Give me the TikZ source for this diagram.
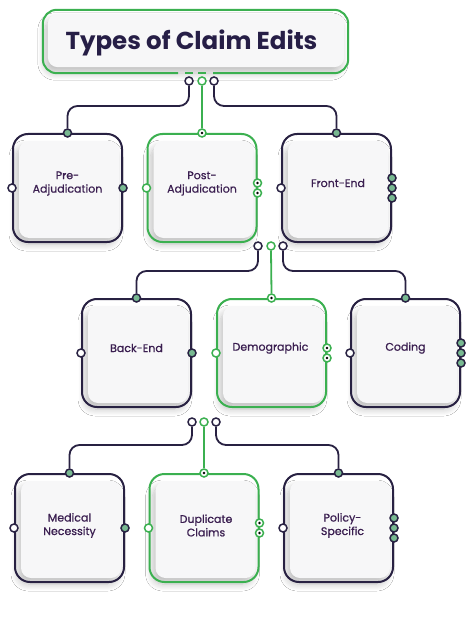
\documentclass[tikz,border=0pt]{standalone}
\usepackage{fontspec}
\setmainfont{Poppins}
\newfontfamily\pmed{Poppins}[FakeBold=0.8]
\usetikzlibrary{calc,shadows.blur}
\definecolor{navy}{RGB}{40,33,66}
\definecolor{cgreen}{RGB}{59,176,80}
\definecolor{txt}{RGB}{58,30,80}
\definecolor{ttl}{RGB}{38,30,70}
\definecolor{innerfill}{RGB}{247,247,248}
\definecolor{dotg}{RGB}{120,185,145}
\pgfdeclarelayer{bg}
\pgfsetlayers{bg,main}
\begin{document}
\begin{tikzpicture}[x=1pt,y=-1pt,
  box/.style={draw=navy, line width=2pt, rounded corners=15pt, minimum width=109pt, minimum height=108pt, inner sep=0},
  gbox/.style={box, draw=cgreen},
  lbl/.style={text=txt, font=\pmed\fontsize{11}{13.5}\selectfont, align=center, inner sep=0},
  ocirc/.style={circle, draw=navy, fill=white, line width=1.5pt, minimum size=8pt, inner sep=0},
  gocirc/.style={ocirc, draw=cgreen},
  ndot/.style={ocirc, fill=dotg},
  gdot/.style={gocirc, path picture={\fill[black] (path picture bounding box.center) circle (1.3pt);}},
  link/.style={draw=navy, line width=1.8pt, rounded corners=10pt},
  glink/.style={link, draw=cgreen},
  panel/.style={fill=innerfill, rounded corners=10pt, blur shadow={shadow xshift=-3pt, shadow yshift=-6pt, shadow blur steps=14, shadow blur radius=7pt, shadow opacity=25}}
]
\begin{pgfonlayer}{bg}
\fill[white] (0,0) rectangle (474,631);
\end{pgfonlayer}
\useasboundingbox (0,0) rectangle (474,631);

% ---------- title ----------
\node[minimum width=305pt, minimum height=63pt, inner sep=0] (title) at (195.5,41.5) {};
\begin{pgfonlayer}{bg}
\path[panel] ($(title.north west)+(5,4)$) rectangle ($(title.south east)+(-4,-6)$);
\end{pgfonlayer}
\draw[cgreen, line width=2pt, rounded corners=14pt] ($(title.south)+(-17.5,0)$) -- (title.south west) -- (title.north west) -- (title.north east) -- (title.south east) -- ($(title.south)+(17.5,0)$);
\draw[cgreen, line width=2pt] ($(title.south)+(-10.5,0)$) -- ($(title.south)+(-2.5,0)$);
\draw[cgreen, line width=2pt] ($(title.south)+(2.5,0)$) -- ($(title.south)+(10.5,0)$);
\node[anchor=base, font=\fontsize{24.5}{28}\selectfont\bfseries, text=ttl, inner sep=0] (tt) at (191.5,50) {Types of Claim Edits};

% ---------- boxes ----------
\node[box]  (b1) at (67.5,188) {};
\node[gbox] (b2) at (202,188) {};
\node[box]  (b3) at (336.5,188) {};
\node[box]  (b4) at (136.5,353) {};
\node[gbox] (b5) at (271.5,353) {};
\node[box]  (b6) at (405.5,353) {};
\node[box]  (b7) at (69.5,528) {};
\node[gbox] (b8) at (204,528) {};
\node[box]  (b9) at (338.5,528) {};

\begin{pgfonlayer}{bg}
\foreach \b in {b1,b2,b3,b4,b5,b6,b7,b8,b9}{
  \path[panel] ($(\b.north west)+(7,8)$) rectangle ($(\b.south east)+(-4,-5)$);
}
\end{pgfonlayer}

% ---------- labels ----------
\node[lbl] (t1) at ($(b1.center)+(0,-4.5)$) {Pre-\\Adjudication};
\node[lbl] (t2) at ($(b2.center)+(0,-4.5)$) {Post-\\Adjudication};
\node[lbl] (t3) at ($(b3.center)+(1.5,-5)$) {Front-End};
\node[lbl] (t4) at ($(b4.center)+(0,-5)$) {Back-End};
\node[lbl] (t5) at ($(b5.center)+(-1,-5)$) {Demographic};
\node[lbl] (t6) at ($(b6.center)+(0,-5)$) {Coding};
\node[lbl] (t7) at ($(b7.center)+(0,-2.5)$) {Medical\\Necessity};
\node[lbl] (t8) at ($(b8.center)+(2,-2.5)$) {Duplicate\\Claims};
\node[lbl] (t9) at ($(b9.center)+(4,-2.5)$) {Policy-\\Specific};

% ---------- side dots ----------
\foreach \b in {b1,b3,b4,b6,b7,b9}{ \node[ocirc] (\b l) at (\b.west) {}; }
\foreach \b in {b2,b5,b8}{ \node[gocirc] (\b l) at (\b.west) {}; }
\foreach \b in {b1,b4,b7}{ \node[ndot] (\b r) at (\b.east) {}; }
\foreach \b in {b2,b5,b8}{
  \node[gdot] (\b ra) at ($(\b.east)+(0,-5)$) {};
  \node[gdot] (\b rb) at ($(\b.east)+(0,5)$) {};
}
\foreach \b in {b3,b6,b9}{
  \node[ndot] (\b ra) at ($(\b.east)+(0,-10)$) {};
  \node[ndot] (\b rb) at (\b.east) {};
  \node[ndot] (\b rc) at ($(\b.east)+(0,10)$) {};
}

% ---------- top dots ----------
\foreach \b in {b1,b3,b4,b6,b7,b9}{ \node[ndot] (\b t) at (\b.north) {}; }
\foreach \b in {b2,b5,b8}{ \node[gdot] (\b t) at (\b.north) {}; }

% ---------- connector circles ----------
\node[ocirc]  (g1a) at (189,81) {};
\node[gocirc] (g1b) at (202,81) {};
\node[ocirc]  (g1c) at (214,81) {};
\node[ocirc]  (g2a) at (258,246) {};
\node[gocirc] (g2b) at (271,246) {};
\node[ocirc]  (g2c) at (283,246) {};
\node[ocirc]  (g3a) at (192,422) {};
\node[gocirc] (g3b) at (204,422) {};
\node[ocirc]  (g3c) at (216,422) {};
\coordinate (h1) at (0,106);
\coordinate (h2) at (0,271);
\coordinate (h3) at (0,445);

% ---------- connectors ----------
\draw[link] (g1a.south) -- (g1a.south |- h1) -- (b1t.north |- h1) -- (b1t.north);
\draw[glink] (g1b.south) -- (b2t.north);
\draw[link] (g1c.south) -- (g1c.south |- h1) -- (b3t.north |- h1) -- (b3t.north);

\draw[link] (g2a.south) -- (g2a.south |- h2) -- (b4t.north |- h2) -- (b4t.north);
\draw[glink] (g2b.south) -- (b5t.north);
\draw[link] (g2c.south) -- (g2c.south |- h2) -- (b6t.north |- h2) -- (b6t.north);

\draw[link] (g3a.south) -- (g3a.south |- h3) -- (b7t.north |- h3) -- (b7t.north);
\draw[glink] (g3b.south) -- (b8t.north);
\draw[link] (g3c.south) -- (g3c.south |- h3) -- (b9t.north |- h3) -- (b9t.north);
\end{tikzpicture}
\end{document}
